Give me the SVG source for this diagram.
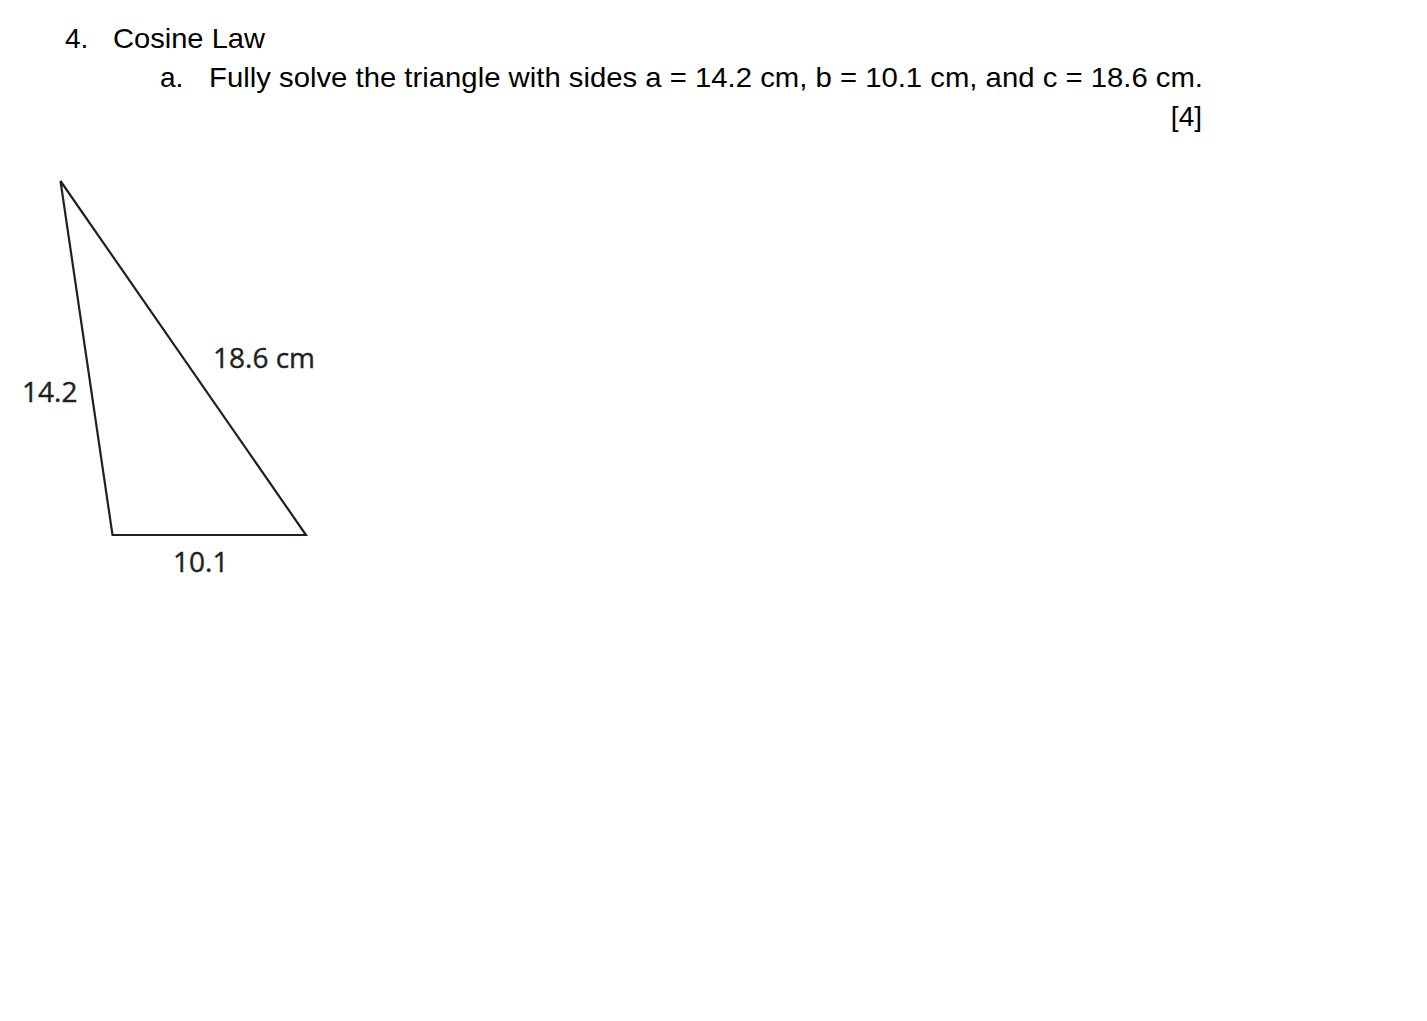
<svg xmlns="http://www.w3.org/2000/svg" width="1427" height="1021" viewBox="0 0 1427 1021">
<style>
.q{font-family:"Liberation Sans",Arial,sans-serif;font-size:28px;fill:#000}
.l{font-family:"Open Sans","Noto Sans",sans-serif;font-size:28px;fill:#231f20;stroke:#231f20;stroke-width:0.4}
</style>
<rect width="1427" height="1021" fill="#fff"/>
<text class="q" x="65" y="48">4.</text>
<text class="q" x="113" y="48" textLength="152" lengthAdjust="spacingAndGlyphs">Cosine Law</text>
<text class="q" x="160" y="87">a.</text>
<text class="q" x="209" y="87" textLength="994" lengthAdjust="spacingAndGlyphs">Fully solve the triangle with sides a = 14.2 cm, b = 10.1 cm, and c = 18.6 cm.</text>
<text class="q" x="1202" y="126" text-anchor="end">[4]</text>
<g id="triangle">
<polygon points="60.5,181 112.5,535 306,535" fill="none" stroke="#231f20" stroke-width="2.2" stroke-linejoin="miter"/>
</g>
<text class="l" x="213" y="368">18.6 cm</text>
<text class="l" x="22" y="402">14.2</text>
<text class="l" x="173" y="572">10.1</text>
</svg>
